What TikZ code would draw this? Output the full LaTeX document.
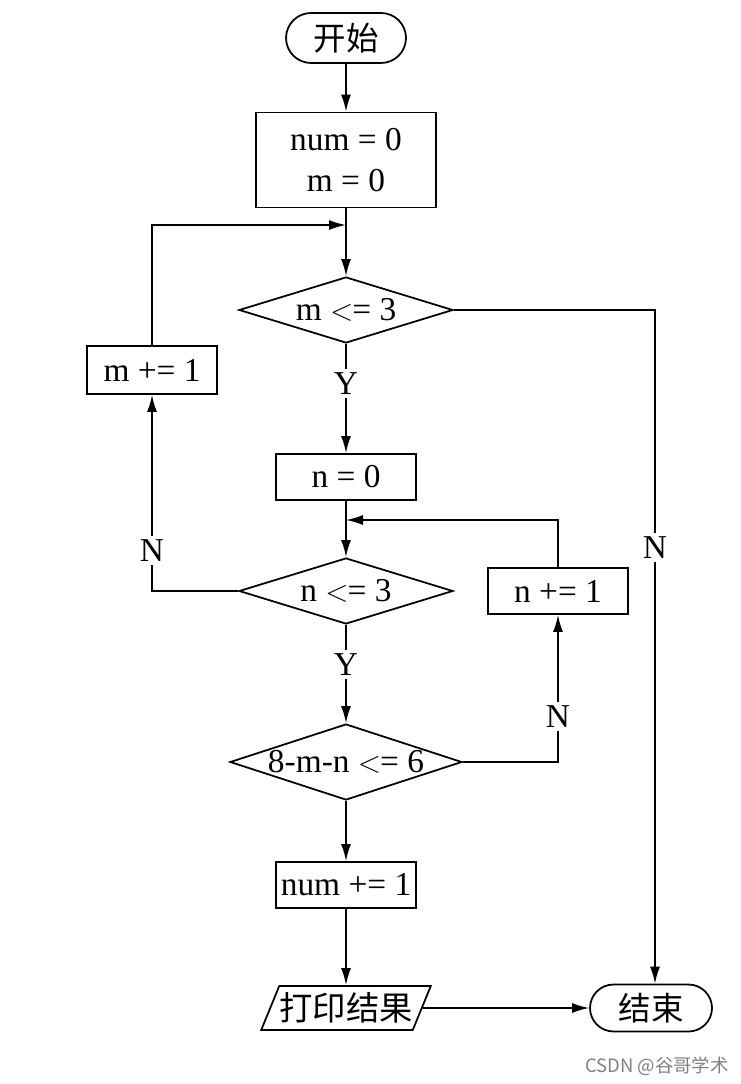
\documentclass[tikz,border=0pt]{standalone}
\usepackage{fontspec}
\setmainfont{Liberation Serif}
\newfontfamily\cjk{Noto Sans CJK SC}
\usetikzlibrary{shapes.geometric,shapes.misc,arrows.meta}
\newcommand{\bigtxt}{\fontsize{19}{23}\selectfont}
\newcommand{\lteq}{$<$\kern-0.5pt= }

\begin{document}
\begin{tikzpicture}[x=0.02cm,y=-0.02cm]
    \tikzstyle{line}=[line width=1pt]
    \tikzstyle{arrow}=[line, -{Latex[length=3.4mm,width=2mm]}]
    \tikzstyle{term}=[rounded rectangle, draw, line, inner sep=0pt, font=\cjk\fontsize{18.5}{22}\selectfont]
    \tikzstyle{proc}=[rectangle, draw, line, inner sep=0pt, align=center, font=\bigtxt]
    \tikzstyle{cond}=[diamond, draw, line, inner sep=0pt, font=\bigtxt]
    \tikzstyle{io}=[trapezium, trapezium left angle=67, trapezium right angle=113, trapezium stretches=true,
                    draw, line, inner xsep=0pt, font=\cjk\fontsize{19}{22}\selectfont]
    \tikzstyle{yn}=[fill=white, inner sep=2pt, font=\bigtxt]
    \useasboundingbox (0,0) rectangle (740,1084);

    % nodes
    \node[term, minimum width=2.4cm, minimum height=1cm] (start) at (346,38) {开始};
    \node[proc, minimum width=3.6cm, minimum height=1.9cm] (init) at (346,160) {num = 0\\m = 0};
    \node[cond, minimum width=4.28cm, minimum height=1.32cm] (cm) at (346,310) {\makebox[0pt]{m \lteq3}};
    \node[proc, minimum width=2.6cm, minimum height=0.96cm] (incm) at (152,370) {m += 1};
    \node[proc, minimum width=2.8cm, minimum height=0.92cm] (setn) at (346,477) {n = 0};
    \node[cond, minimum width=4.28cm, minimum height=1.32cm] (cn) at (346,591) {\makebox[0pt]{n \lteq3}};
    \node[proc, minimum width=2.8cm, minimum height=0.92cm] (incn) at (558,591) {n += 1};
    \node[cond, minimum width=4.64cm, minimum height=1.52cm] (ck) at (346,762) {\makebox[0pt]{8-m-n \lteq6}};
    \node[proc, minimum width=2.8cm, minimum height=0.92cm] (incnum) at (346,885) {num += 1};
    \node[io, minimum width=3.16cm, minimum height=0.88cm] (print) at (346,1008) {打印结果};
    \node[term, minimum width=2.44cm, minimum height=0.94cm] (stop) at (651,1008) {结束};
    \coordinate (jm) at (346,225);
    \coordinate (jn) at (346,520);

    % connectors
    \draw[arrow] (start) -- (init);
    \draw[line] (init) -- (jm);
    \draw[arrow] (jm) -- (cm);
    \draw[arrow] (cm) -- node[yn, pos=0.36] {Y} (setn);
    \draw[line] (setn) -- (jn);
    \draw[arrow] (jn) -- (cn);
    \draw[arrow] (cn) -- node[yn, pos=0.4] {Y} (ck);
    \draw[arrow] (ck) -- (incnum);
    \draw[arrow] (incnum) -- (print);
    \draw[arrow] (print) -- (stop);
    \draw[arrow] (incm.north) |- (jm);
    \draw[arrow, line width=0.8pt] (incn.north) |- (jn);
    \draw[arrow] (cn.west) -| node[yn, pos=0.604] {N} (incm.south);
    \draw[arrow] (ck.east) -| node[yn, pos=0.655] {N} (incn.south);
    \draw[arrow] (cm.east) -| node[yn, pos=0.676] {N} ([xshift=0.08cm]stop.north);

    \node[text=gray, font=\cjk\fontsize{10.5}{12}\selectfont] (mark) at (657,1066) {CSDN @谷哥学术};
\end{tikzpicture}
\end{document}
